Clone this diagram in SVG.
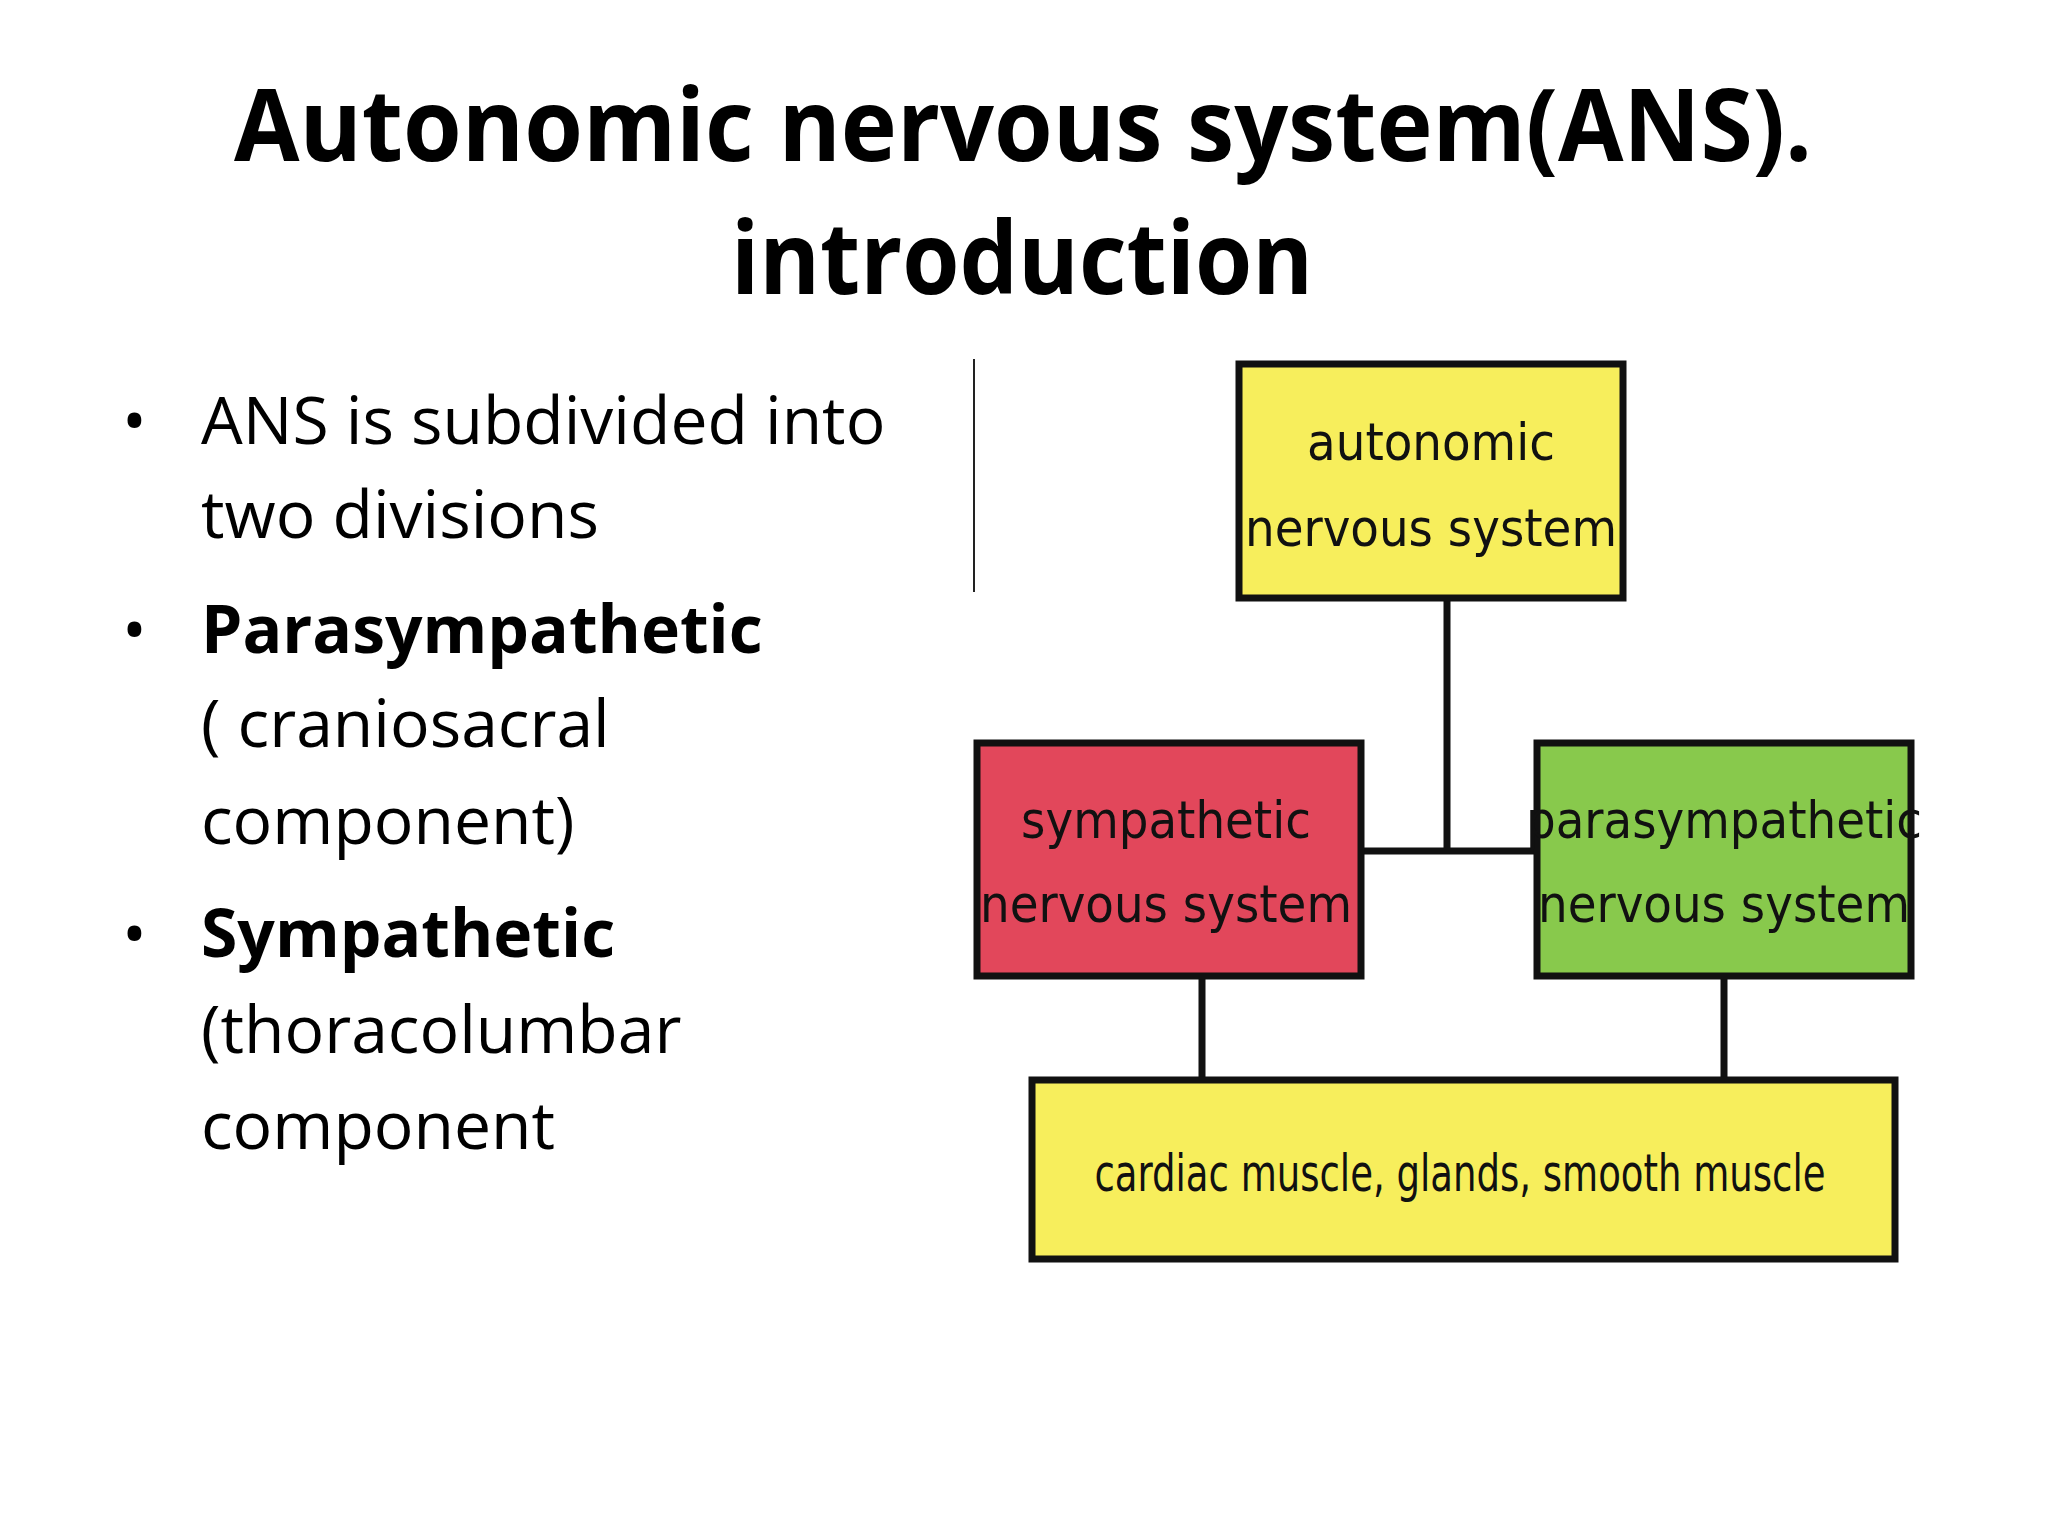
<svg xmlns="http://www.w3.org/2000/svg" width="2048" height="1536" viewBox="0 0 2048 1536">
<style>
.t{font-family:"Open Sans","Liberation Sans",sans-serif;font-weight:bold;font-size:100px;fill:#000;text-anchor:middle}
.b{font-family:"Open Sans","Liberation Sans",sans-serif;font-size:66px;fill:#000}
.bb{font-weight:bold}
.n{font-family:"DejaVu Sans Condensed","DejaVu Sans",sans-serif;font-stretch:condensed;font-size:52px;fill:#111;text-anchor:middle}
.box{stroke:#111;stroke-width:7}
.c{stroke:#111;stroke-width:7;fill:none}
</style>
<rect width="2048" height="1536" fill="#fff"/>
<text class="t" x="1023" y="161" textLength="1578" lengthAdjust="spacingAndGlyphs">Autonomic nervous system(ANS).</text>
<text class="t" x="1022" y="294" textLength="582" lengthAdjust="spacingAndGlyphs">introduction</text>
<g class="b">
<text x="122" y="444">•</text>
<text x="201" y="444">ANS is subdivided into</text>
<text x="201" y="538">two divisions</text>
<text x="122" y="653">•</text>
<text x="201" y="653" class="bb">Parasympathetic</text>
<text x="201" y="747">( craniosacral</text>
<text x="201" y="844">component)</text>
<text x="122" y="957">•</text>
<text x="201" y="957" class="bb">Sympathetic</text>
<text x="201" y="1053">(thoracolumbar</text>
<text x="201" y="1149">component</text>
</g>
<line x1="974" y1="359" x2="974" y2="592" stroke="#222" stroke-width="2"/>
<g id="connectors">
<path class="c" d="M1447 598V851M1361 851H1537M1202 976V1080M1724 976V1080"/>
</g>
<g id="ans"><rect class="box" x="1239" y="364" width="384" height="234" fill="#f7ee5c"/>
<text class="n" x="1431" y="460">autonomic</text><text class="n" x="1431" y="546">nervous system</text></g>
<g id="symp"><rect class="box" x="977" y="743" width="384" height="233" fill="#e2475b"/>
<text class="n" x="1166" y="838">sympathetic</text><text class="n" x="1166" y="922">nervous system</text></g>
<g id="para"><rect class="box" x="1537" y="743" width="374" height="233" fill="#88c94c"/>
<text class="n" x="1724" y="838">parasympathetic</text><text class="n" x="1724" y="922">nervous system</text></g>
<g id="eff"><rect class="box" x="1032" y="1080" width="863" height="179" fill="#f7ee5c"/>
<text class="n" x="1460" y="1191" textLength="731" lengthAdjust="spacingAndGlyphs">cardiac muscle, glands, smooth muscle</text></g>
</svg>
